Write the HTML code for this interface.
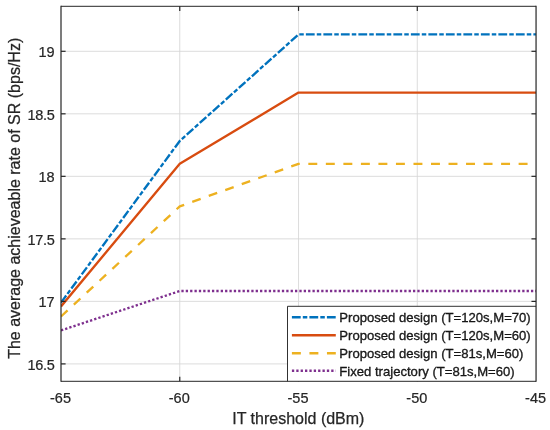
<!DOCTYPE html>
<html><head><meta charset="utf-8"><title>plot</title>
<style>html,body{margin:0;padding:0;background:#fff}svg{display:block}text{font-family:"Liberation Sans",Arial,sans-serif;fill:#262626}</style></head>
<body>
<svg width="550" height="430" viewBox="0 0 550 430">
<rect x="0" y="0" width="550" height="430" fill="#ffffff"/>
<g stroke="#d6d6d6" stroke-width="0.85" fill="none">
<line x1="179.76" y1="6.3" x2="179.76" y2="381.3"/>
<line x1="298.52" y1="6.3" x2="298.52" y2="381.3"/>
<line x1="417.29" y1="6.3" x2="417.29" y2="381.3"/>
<line x1="61.0" y1="363.90" x2="536.05" y2="363.90"/>
<line x1="61.0" y1="301.38" x2="536.05" y2="301.38"/>
<line x1="61.0" y1="238.86" x2="536.05" y2="238.86"/>
<line x1="61.0" y1="176.34" x2="536.05" y2="176.34"/>
<line x1="61.0" y1="113.82" x2="536.05" y2="113.82"/>
<line x1="61.0" y1="51.30" x2="536.05" y2="51.30"/>
</g>
<clipPath id="c"><rect x="61.0" y="6.3" width="475.05" height="375.00"/></clipPath>
<g fill="none" stroke-width="2.35" stroke-linejoin="round" clip-path="url(#c)">
<polyline points="61.00,302.63 179.76,140.95 298.52,34.42 536.05,34.42" stroke="#0072bd" stroke-dasharray="8.8 2.1 4.5 2.1"/>
<polyline points="61.00,306.38 179.76,163.84 298.52,92.56 536.05,92.56" stroke="#d84c10"/>
<polyline points="61.00,316.51 179.76,206.35 298.52,163.84 536.05,163.84" stroke="#edb120" stroke-dasharray="8.95 8.575"/>
<polyline points="61.00,330.39 179.76,291.00 536.05,291.00" stroke="#7e2f8e" stroke-dasharray="2.3 2.07"/>
</g>
<g stroke="#262626" stroke-width="1.2" fill="none">
<line x1="179.76" y1="381.3" x2="179.76" y2="376.7"/>
<line x1="298.52" y1="381.3" x2="298.52" y2="376.7"/>
<line x1="417.29" y1="381.3" x2="417.29" y2="376.7"/>
<line x1="179.76" y1="6.3" x2="179.76" y2="10.899999999999999"/>
<line x1="298.52" y1="6.3" x2="298.52" y2="10.899999999999999"/>
<line x1="417.29" y1="6.3" x2="417.29" y2="10.899999999999999"/>
<line x1="61.0" y1="363.90" x2="65.6" y2="363.90"/>
<line x1="536.05" y1="363.90" x2="531.4499999999999" y2="363.90"/>
<line x1="61.0" y1="301.38" x2="65.6" y2="301.38"/>
<line x1="536.05" y1="301.38" x2="531.4499999999999" y2="301.38"/>
<line x1="61.0" y1="238.86" x2="65.6" y2="238.86"/>
<line x1="536.05" y1="238.86" x2="531.4499999999999" y2="238.86"/>
<line x1="61.0" y1="176.34" x2="65.6" y2="176.34"/>
<line x1="536.05" y1="176.34" x2="531.4499999999999" y2="176.34"/>
<line x1="61.0" y1="113.82" x2="65.6" y2="113.82"/>
<line x1="536.05" y1="113.82" x2="531.4499999999999" y2="113.82"/>
<line x1="61.0" y1="51.30" x2="65.6" y2="51.30"/>
<line x1="536.05" y1="51.30" x2="531.4499999999999" y2="51.30"/>
</g>
<g font-size="14.5" stroke="#262626" stroke-width="0.22">
<text x="60.50" y="402.6" text-anchor="middle">-65</text>
<text x="179.26" y="402.6" text-anchor="middle">-60</text>
<text x="298.02" y="402.6" text-anchor="middle">-55</text>
<text x="416.79" y="402.6" text-anchor="middle">-50</text>
<text x="535.55" y="402.6" text-anchor="middle">-45</text>
<text x="54.7" y="369.90" text-anchor="end" letter-spacing="-0.25">16.5</text>
<text x="54.7" y="307.38" text-anchor="end">17</text>
<text x="54.7" y="244.86" text-anchor="end" letter-spacing="-0.25">17.5</text>
<text x="54.7" y="182.34" text-anchor="end">18</text>
<text x="54.7" y="119.82" text-anchor="end" letter-spacing="-0.25">18.5</text>
<text x="54.7" y="57.30" text-anchor="end">19</text>
</g>
<text x="298.35" y="423.7" font-size="16" stroke="#262626" stroke-width="0.25" text-anchor="middle">IT threshold (dBm)</text>
<text transform="translate(19.9,198.3) rotate(-90)" font-size="16" stroke="#262626" stroke-width="0.25" text-anchor="middle">The average achieveable rate of SR (bps/Hz)</text>
<rect x="287.5" y="306.3" width="248.55" height="75.00" fill="#ffffff"/>
<path d="M287.5,381.3V306.3H536.05" fill="none" stroke="#262626" stroke-width="0.95"/>
<g fill="none" stroke-width="2.35">
<line x1="291.9" y1="317.2" x2="335.8" y2="317.2" stroke="#0072bd" stroke-dasharray="8.8 2.1 4.5 2.1"/>
<line x1="291.9" y1="335.2" x2="335.8" y2="335.2" stroke="#d84c10"/>
<line x1="291.9" y1="353.2" x2="335.8" y2="353.2" stroke="#edb120" stroke-dasharray="8.95 8.575"/>
<line x1="291.9" y1="370.7" x2="335.8" y2="370.7" stroke="#7e2f8e" stroke-dasharray="2.3 2.07"/>
</g>
<g font-size="13.1" fill="#000" stroke="#000" stroke-width="0.3" style="fill:#000">
<text x="339.3" y="322.00">Proposed design (T=120s,M=70)</text>
<text x="339.3" y="340.00">Proposed design (T=120s,M=60)</text>
<text x="339.3" y="358.00">Proposed design (T=81s,M=60)</text>
<text x="339.3" y="375.50">Fixed trajectory (T=81s,M=60)</text>
</g>
<g stroke="#262626" stroke-width="1.2" fill="none">
<path d="M61.0,5.8V381.8M536.05,5.8V381.8"/>
<path d="M61.0,6.3H536.05M61.0,381.3H536.05" stroke-width="1"/>
</g>
</svg>
</body></html>
